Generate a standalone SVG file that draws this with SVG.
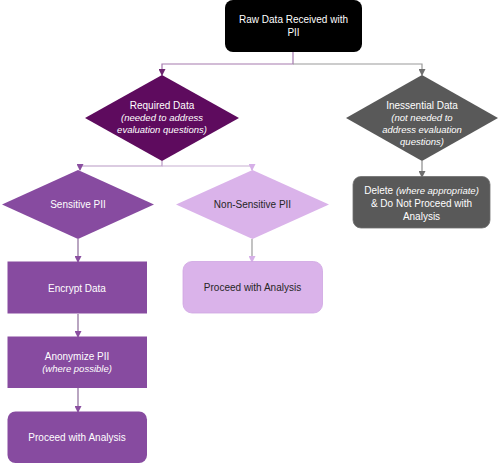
<svg xmlns="http://www.w3.org/2000/svg" width="500" height="465" viewBox="0 0 500 465">
<defs>
<style>
text{font-family:"Liberation Sans",Arial,sans-serif;font-size:10px;text-anchor:middle}
.w{fill:#ffffff}
.d{fill:#262626}
.i{font-style:italic;font-size:9.5px}
.c{fill:none;stroke-width:1.2}
</style>
<marker id="aP" markerWidth="7" markerHeight="7" refX="6" refY="3.5" orient="auto" markerUnits="userSpaceOnUse"><path d="M0,0 L7,3.5 L0,7 Z" fill="#6e2470"/></marker>
<marker id="aG" markerWidth="7" markerHeight="7" refX="6" refY="3.5" orient="auto" markerUnits="userSpaceOnUse"><path d="M0,0 L7,3.5 L0,7 Z" fill="#6f6f6f"/></marker>
<marker id="aM" markerWidth="7" markerHeight="7" refX="6" refY="3.5" orient="auto" markerUnits="userSpaceOnUse"><path d="M0,0 L7,3.5 L0,7 Z" fill="#8a4fa0"/></marker>
<marker id="aL" markerWidth="7" markerHeight="7" refX="6" refY="3.5" orient="auto" markerUnits="userSpaceOnUse"><path d="M0,0 L7,3.5 L0,7 Z" fill="#d6b0e8"/></marker>
</defs>
<rect width="500" height="465" fill="#ffffff"/>
<g id="connectors">
<path class="c" d="M293,52 V64 H162 V75" stroke="#a57aae" marker-end="url(#aP)"/>
<path class="c" d="M293,64 H422 V75" stroke="#9a9a9a" marker-end="url(#aG)"/>
<path class="c" d="M162,161 V166 H80 V170" stroke="#b897c4" marker-end="url(#aM)"/>
<path class="c" d="M162,166 H252 V170" stroke="#c8b0d2" marker-end="url(#aL)"/>
<path class="c" d="M422,161 V177" stroke="#8a8a8a" marker-end="url(#aG)"/>
<path class="c" d="M78,239 V262" stroke="#8a6a98" marker-end="url(#aM)"/>
<path class="c" d="M252,239 V262" stroke="#9a9a9a" marker-end="url(#aL)"/>
<path class="c" d="M78,314 V337" stroke="#8a6a98" marker-end="url(#aM)"/>
<path class="c" d="M78,388 V412" stroke="#8a6a98" marker-end="url(#aM)"/>
</g>
<g id="raw">
<rect x="225" y="0" width="137" height="52" rx="8" fill="#000000"/>
<text class="w" x="293.5" y="23">Raw Data Received with</text>
<text class="w" x="293.5" y="36">PII</text>
</g>
<g id="required">
<polygon points="162,75 239,118 162,161 85,118" fill="#5e0b5e"/>
<text class="w" x="162" y="109">Required Data</text>
<text class="w i" x="162" y="121">(needed to address</text>
<text class="w i" x="162" y="133">evaluation questions)</text>
</g>
<g id="inessential">
<polygon points="422,75 498,118 422,161 346,118" fill="#595959"/>
<text class="w" x="422" y="109">Inessential Data</text>
<text class="w i" x="422" y="121">(not needed to</text>
<text class="w i" x="422" y="133">address evaluation</text>
<text class="w i" x="422" y="145">questions)</text>
</g>
<g id="delete">
<rect x="353" y="176.5" width="137" height="51.5" rx="8" fill="#595959" stroke="#6e6e6e" stroke-width="0.8"/>
<text class="w" x="421.5" y="194">Delete <tspan class="i">(where appropriate)</tspan></text>
<text class="w" x="421.5" y="207">&amp; Do Not Proceed with</text>
<text class="w" x="421.5" y="220">Analysis</text>
</g>
<g id="sensitive">
<polygon points="78,170 154,204.5 78,239 2,204.5" fill="#874ba0"/>
<text class="w" x="78" y="208">Sensitive PII</text>
</g>
<g id="nonsensitive">
<polygon points="252.5,170 329,204.5 252.5,239 176,204.5" fill="#dab3ea"/>
<text class="d" x="252.5" y="208">Non-Sensitive PII</text>
</g>
<g id="encrypt">
<rect x="7.5" y="261.5" width="139.5" height="52" fill="#874ba0"/>
<text class="w" x="77" y="292">Encrypt Data</text>
</g>
<g id="anonymize">
<rect x="7.5" y="336.5" width="139.5" height="51.5" fill="#874ba0"/>
<text class="w" x="77" y="360">Anonymize PII</text>
<text class="w i" x="77" y="372">(where possible)</text>
</g>
<g id="proceed1">
<rect x="7.5" y="411.5" width="139.5" height="51.5" rx="8" fill="#874ba0"/>
<text class="w" x="77" y="441">Proceed with Analysis</text>
</g>
<g id="proceed2">
<rect x="183" y="261.5" width="139.5" height="51.5" rx="9" fill="#dab3ea" stroke="#cfa6e2" stroke-width="0.8"/>
<text class="d" x="252.5" y="291">Proceed with Analysis</text>
</g>
</svg>
